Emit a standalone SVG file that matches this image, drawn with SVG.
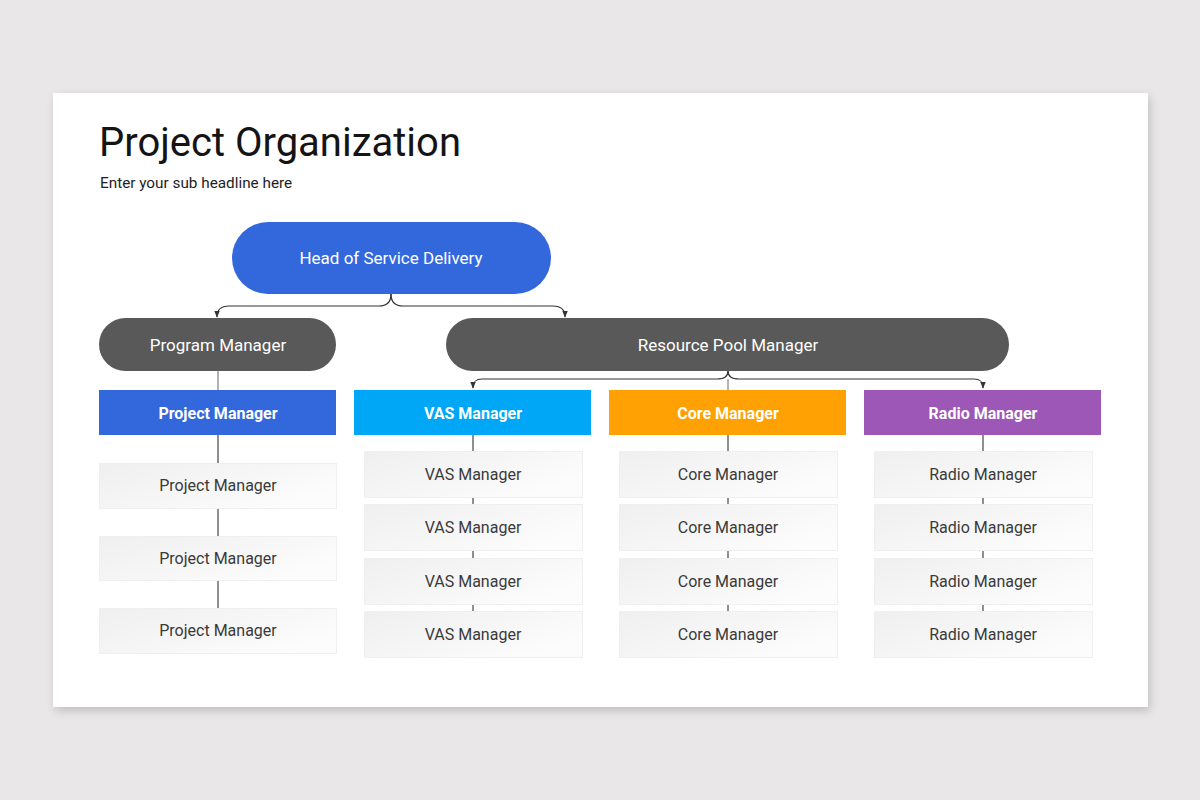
<svg xmlns="http://www.w3.org/2000/svg" width="1200" height="800" viewBox="0 0 1200 800">
<defs>
<filter id="shadow" x="-5%" y="-5%" width="110%" height="115%">
<feGaussianBlur in="SourceAlpha" stdDeviation="5"/>
<feOffset dx="2" dy="4" result="b"/>
<feComponentTransfer><feFuncA type="linear" slope="0.18"/></feComponentTransfer>
<feMerge><feMergeNode/><feMergeNode in="SourceGraphic"/></feMerge>
</filter>
<linearGradient id="boxg" x1="0" y1="0" x2="1" y2="0.6">
<stop offset="0" stop-color="#efefef"/>
<stop offset="1" stop-color="#fcfcfc"/>
</linearGradient>
<marker id="arr" viewBox="0 0 10 10" refX="9" refY="5" markerWidth="7" markerHeight="7" orient="auto" markerUnits="userSpaceOnUse">
<path d="M0,1 L10,5 L0,9 z" fill="#333"/>
</marker>
<style>
.t{font-family:Roboto,"Liberation Sans",Arial,sans-serif;}
.title{font-size:40px;fill:#141414;}
.sub{font-size:15.3px;fill:#1e1e1e;}
.wt{font-size:17px;fill:#ffffff;text-anchor:middle;}
.hd{font-size:16px;fill:#ffffff;font-weight:700;text-anchor:middle;}
.bx{fill:url(#boxg);stroke:#efefef;stroke-width:1;}
.bt{font-size:16px;fill:#3a3a3a;text-anchor:middle;}
.br{fill:none;stroke:#333;stroke-width:1.2;}
.vl{stroke:#6a6a6a;stroke-width:1.5;fill:none;}
.vl2{stroke:#9a9a9a;stroke-width:1.5;fill:none;}
</style>
</defs>
<rect x="0" y="0" width="1200" height="800" fill="#e9e7e8"/>
<rect x="53" y="93" width="1095" height="614" fill="#ffffff" filter="url(#shadow)"/>
<text class="t title" x="99" y="156">Project Organization</text>
<text class="t sub" x="100" y="188">Enter your sub headline here</text>

<g id="connectors">
<path class="br" d="M391,294 C391,302 387,306 379,306 L229,306 C221,306 217,309 217,317" marker-end="url(#arr)"/>
<path class="br" d="M391,294 C391,302 395,306 403,306 L553,306 C561,306 565,309 565,317" marker-end="url(#arr)"/>
<path class="br" d="M728,371 C728,376 724,379 717,379 L482,379 C476,379 473,381 473,388" marker-end="url(#arr)"/>
<path class="br" d="M728,371 C728,376 732,379 739,379 L974,379 C980,379 983,381 983,388" marker-end="url(#arr)"/>
<line class="vl2" x1="728" y1="379" x2="728" y2="390"/>
<line class="vl2" x1="218" y1="371" x2="218" y2="390"/>
<line class="vl" x1="218" y1="435" x2="218" y2="463"/>
<line class="vl" x1="218" y1="508" x2="218" y2="536"/>
<line class="vl" x1="218" y1="581" x2="218" y2="608"/>
<line class="vl" x1="473" y1="435" x2="473" y2="451"/>
<line class="vl" x1="473" y1="497" x2="473" y2="504"/>
<line class="vl" x1="473" y1="551" x2="473" y2="558"/>
<line class="vl" x1="473" y1="604" x2="473" y2="611"/>
<line class="vl" x1="728" y1="435" x2="728" y2="451"/>
<line class="vl" x1="728" y1="497" x2="728" y2="504"/>
<line class="vl" x1="728" y1="551" x2="728" y2="558"/>
<line class="vl" x1="728" y1="604" x2="728" y2="611"/>
<line class="vl" x1="983" y1="435" x2="983" y2="451"/>
<line class="vl" x1="983" y1="497" x2="983" y2="504"/>
<line class="vl" x1="983" y1="551" x2="983" y2="558"/>
<line class="vl" x1="983" y1="604" x2="983" y2="611"/>
</g>

<g id="head">
<rect x="232" y="222" width="319" height="72" rx="36" fill="#3367dc"/>
<text class="t wt" x="391" y="264">Head of Service Delivery</text>
</g>
<g id="program-manager">
<rect x="99" y="318" width="237" height="53" rx="26.5" fill="#595959"/>
<text class="t wt" x="218" y="351">Program Manager</text>
</g>
<g id="resource-pool-manager">
<rect x="446" y="318" width="563" height="53" rx="26.5" fill="#595959"/>
<text class="t wt" x="728" y="351">Resource Pool Manager</text>
</g>

<g id="project-manager-header">
<rect x="99" y="390" width="237" height="45" fill="#3367dc"/>
<text class="t hd" x="218" y="419">Project Manager</text>
</g>
<g id="vas-manager-header">
<rect x="354" y="390" width="237" height="45" fill="#00a7f7"/>
<text class="t hd" x="473" y="419">VAS Manager</text>
</g>
<g id="core-manager-header">
<rect x="609" y="390" width="237" height="45" fill="#ffa102"/>
<text class="t hd" x="728" y="419">Core Manager</text>
</g>
<g id="radio-manager-header">
<rect x="864" y="390" width="237" height="45" fill="#9c57b7"/>
<text class="t hd" x="983" y="419">Radio Manager</text>
</g>

<g id="pm1"><rect class="bx" x="99.5" y="463.5" width="237" height="45"/><text class="t bt" x="218" y="491">Project Manager</text></g>
<g id="pm2"><rect class="bx" x="99.5" y="536.5" width="237" height="44"/><text class="t bt" x="218" y="564">Project Manager</text></g>
<g id="pm3"><rect class="bx" x="99.5" y="608.5" width="237" height="45"/><text class="t bt" x="218" y="636">Project Manager</text></g>

<g id="vas1"><rect class="bx" x="364.5" y="451.5" width="218" height="46"/><text class="t bt" x="473" y="480">VAS Manager</text></g>
<g id="vas2"><rect class="bx" x="364.5" y="504.5" width="218" height="46"/><text class="t bt" x="473" y="533">VAS Manager</text></g>
<g id="vas3"><rect class="bx" x="364.5" y="558.5" width="218" height="46"/><text class="t bt" x="473" y="587">VAS Manager</text></g>
<g id="vas4"><rect class="bx" x="364.5" y="611.5" width="218" height="46"/><text class="t bt" x="473" y="640">VAS Manager</text></g>

<g id="core1"><rect class="bx" x="619.5" y="451.5" width="218" height="46"/><text class="t bt" x="728" y="480">Core Manager</text></g>
<g id="core2"><rect class="bx" x="619.5" y="504.5" width="218" height="46"/><text class="t bt" x="728" y="533">Core Manager</text></g>
<g id="core3"><rect class="bx" x="619.5" y="558.5" width="218" height="46"/><text class="t bt" x="728" y="587">Core Manager</text></g>
<g id="core4"><rect class="bx" x="619.5" y="611.5" width="218" height="46"/><text class="t bt" x="728" y="640">Core Manager</text></g>

<g id="radio1"><rect class="bx" x="874.5" y="451.5" width="218" height="46"/><text class="t bt" x="983" y="480">Radio Manager</text></g>
<g id="radio2"><rect class="bx" x="874.5" y="504.5" width="218" height="46"/><text class="t bt" x="983" y="533">Radio Manager</text></g>
<g id="radio3"><rect class="bx" x="874.5" y="558.5" width="218" height="46"/><text class="t bt" x="983" y="587">Radio Manager</text></g>
<g id="radio4"><rect class="bx" x="874.5" y="611.5" width="218" height="46"/><text class="t bt" x="983" y="640">Radio Manager</text></g>
</svg>
